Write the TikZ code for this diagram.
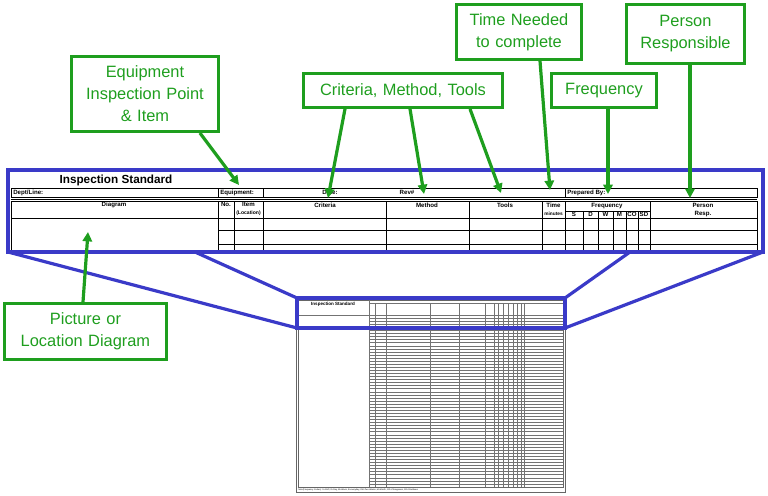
\documentclass[tikz,border=0pt]{standalone}
\usepackage{fontspec}
\setmainfont{Liberation Sans}
\usetikzlibrary{arrows.meta,calc}
\definecolor{cg}{HTML}{1E9E1E}
\definecolor{cb}{HTML}{3A3AC8}
\begin{document}
\begin{tikzpicture}[x=0.75pt,y=-0.75pt,
  callout/.style={draw=cg,line width=2.2pt,text=cg,font=\fontsize{12.3}{16.5}\selectfont,align=center,inner sep=0pt,anchor=north west},
  garrow/.style={draw=cg,line width=2.4pt,-{Triangle[length=7pt,width=7pt]}},
  blu/.style={draw=cb,line width=2.4pt},
  fl/.style={line width=0.6pt},
  ft/.style={font=\bfseries\fontsize{4.6}{5}\selectfont,inner sep=0pt},
  gl/.style={draw=black!55,line width=0.3pt}]
\useasboundingbox (0,0) rectangle (768,496);
% ---- big form ----
\node[font=\bfseries\fontsize{8.8}{9}\selectfont] (title) at (116,180) {Inspection Standard};
\draw[fl] (11,188) rectangle (757,197);
\draw[fl] (11,199.5) -- (757,199.5);
\foreach \x in {218,263,565} \draw[fl] (\x,188) -- (\x,197);
\node[ft,anchor=west] (dept) at (13,192.5) {Dept/Line:};
\node[ft,anchor=west] (equip) at (220,192.5) {Equipment:};
\node[ft] (date) at (330,192.5) {Date:};
\node[ft] (rev) at (407,192.5) {Rev\#};
\node[ft,anchor=west] (prep) at (567,192.5) {Prepared By:};
\draw[fl] (11,201) -- (757,201);
\draw[fl] (11,218) -- (757,218);
\draw[fl] (218,230) -- (757,230);
\draw[fl] (218,244) -- (757,244);
\draw[fl] (565,211) -- (650,211);
\foreach \x in {11,218,234,263,386,469,542,565,650,757} \draw[fl] (\x,201) -- (\x,251);
\foreach \x in {583,598,613,626,638} \draw[fl] (\x,211) -- (\x,251);
\node[ft] (hdiag) at (114,205) {Diagram};
\node[ft] (hno) at (226,204) {No.};
\node[ft] (hitem) at (248.5,204) {Item};
\node[ft,font=\bfseries\fontsize{3.8}{4}\selectfont] (hloc) at (248.5,213) {(Location)};
\node[ft] (hcrit) at (325,205) {Criteria};
\node[ft] (hmeth) at (427,205) {Method};
\node[ft] (htools) at (505,205) {Tools};
\node[ft] (htime) at (553.5,205) {Time};
\node[ft,font=\bfseries\fontsize{3.6}{4}\selectfont] (hmin) at (553.5,214) {minutes};
\node[ft] (hfreq) at (607,206) {Frequency};
\node[ft] (hs) at (574,214.5) {S};
\node[ft] (hd) at (590.5,214.5) {D};
\node[ft] (hw) at (605.5,214.5) {W};
\node[ft] (hm) at (619.5,214.5) {M};
\node[ft] (hco) at (632,214.5) {CO};
\node[ft] (hsd) at (644,214.5) {SD};
\node[ft] (hper) at (703,205) {Person};
\node[ft] (hresp) at (703,214) {Resp.};
\draw[blu] (8,170) rectangle (763,252);
% ---- small page ----
\draw[black!60,line width=0.5pt] (296,298) rectangle (565,492);
\draw[black!60,line width=0.4pt] (298,300) rectangle (563,487);
\draw[gl] (369,300) -- (369,487);
\foreach \x in {375,386,430,459,485,494,498,503,508,513,517,521,524} \draw[gl] (\x,303) -- (\x,487);
\foreach \i in {0,...,55} \draw[gl] (369,{315+\i*3.07}) -- (563,{315+\i*3.07});
\draw[gl] (369,303) -- (563,303);
\draw[gl] (298,315) -- (369,315);
\node[font=\bfseries\fontsize{3.4}{4}\selectfont,inner sep=0pt] (stitle) at (333,304) {Inspection Standard};
\node[font=\fontsize{1.6}{2}\selectfont,inner sep=0pt,anchor=west] (snote) at (298,489.5) {Note(Frequency Codes): S=Shift, D=Day, W=Week, E=everyday, 2W=Two Weeks, M=Month, CO=Changeover, SD=Shutdown};
\draw[blu] (297,298) rectangle (565,328);
\coordinate (sl) at (297,328); \coordinate (slt) at (297,298);
\coordinate (sr) at (565,328); \coordinate (srt) at (565,298);
\coordinate (bl) at (8,252); \coordinate (bm1) at (195,252);
\coordinate (bm2) at (630,252); \coordinate (br) at (763,252);
\draw[blu] (bl) -- (sl);
\draw[blu] (bm1) -- (slt);
\draw[blu] (bm2) -- (srt);
\draw[blu] (br) -- (sr);
% ---- callouts ----
\node[callout,text width=110.25pt,minimum height=56.25pt] (c1) at (70,55) {Equipment\\Inspection Point\\\& Item};
\node[callout,text width=149.25pt,minimum height=25.5pt] (c2) at (302,72) {Criteria, Method, Tools};
\node[callout,text width=93.75pt,minimum height=41.25pt] (c3) at (455,3) {Time Needed\\to complete};
\node[callout,text width=78.75pt,minimum height=25.5pt] (c4) at (550,72) {Frequency};
\node[callout,text width=88.5pt,minimum height=44.25pt] (c5) at (625,3) {Person\\Responsible};
\node[callout,text width=121.5pt,minimum height=42pt] (c6) at (3,302) {Picture or\\Location Diagram};
\coordinate (t1) at (239,185);
\coordinate (t2) at (328,198);
\coordinate (t3) at (424,194);
\coordinate (t4) at (501,193);
\coordinate (t5) at (550,190);
\coordinate (t6) at (608,194);
\coordinate (t7) at (690,198);
\coordinate (t8) at (88,232);
\draw[garrow] ($(c1.south east)+(-20,0)$) -- (t1);
\draw[garrow] ($(c2.south west)+(43,0)$) -- (t2);
\draw[garrow] ($(c2.south west)+(108,0)$) -- (t3);
\draw[garrow] ($(c2.south west)+(168,0)$) -- (t4);
\draw[garrow] ($(c3.south west)+(85,0)$) -- (t5);
\draw[garrow] ($(c4.south west)+(58,0)$) -- (t6);
\draw[garrow] ($(c5.south west)+(65,0)$) -- (t7);
\draw[garrow] ($(c6.north west)+(80,0)$) -- (t8);
\end{tikzpicture}
\end{document}
